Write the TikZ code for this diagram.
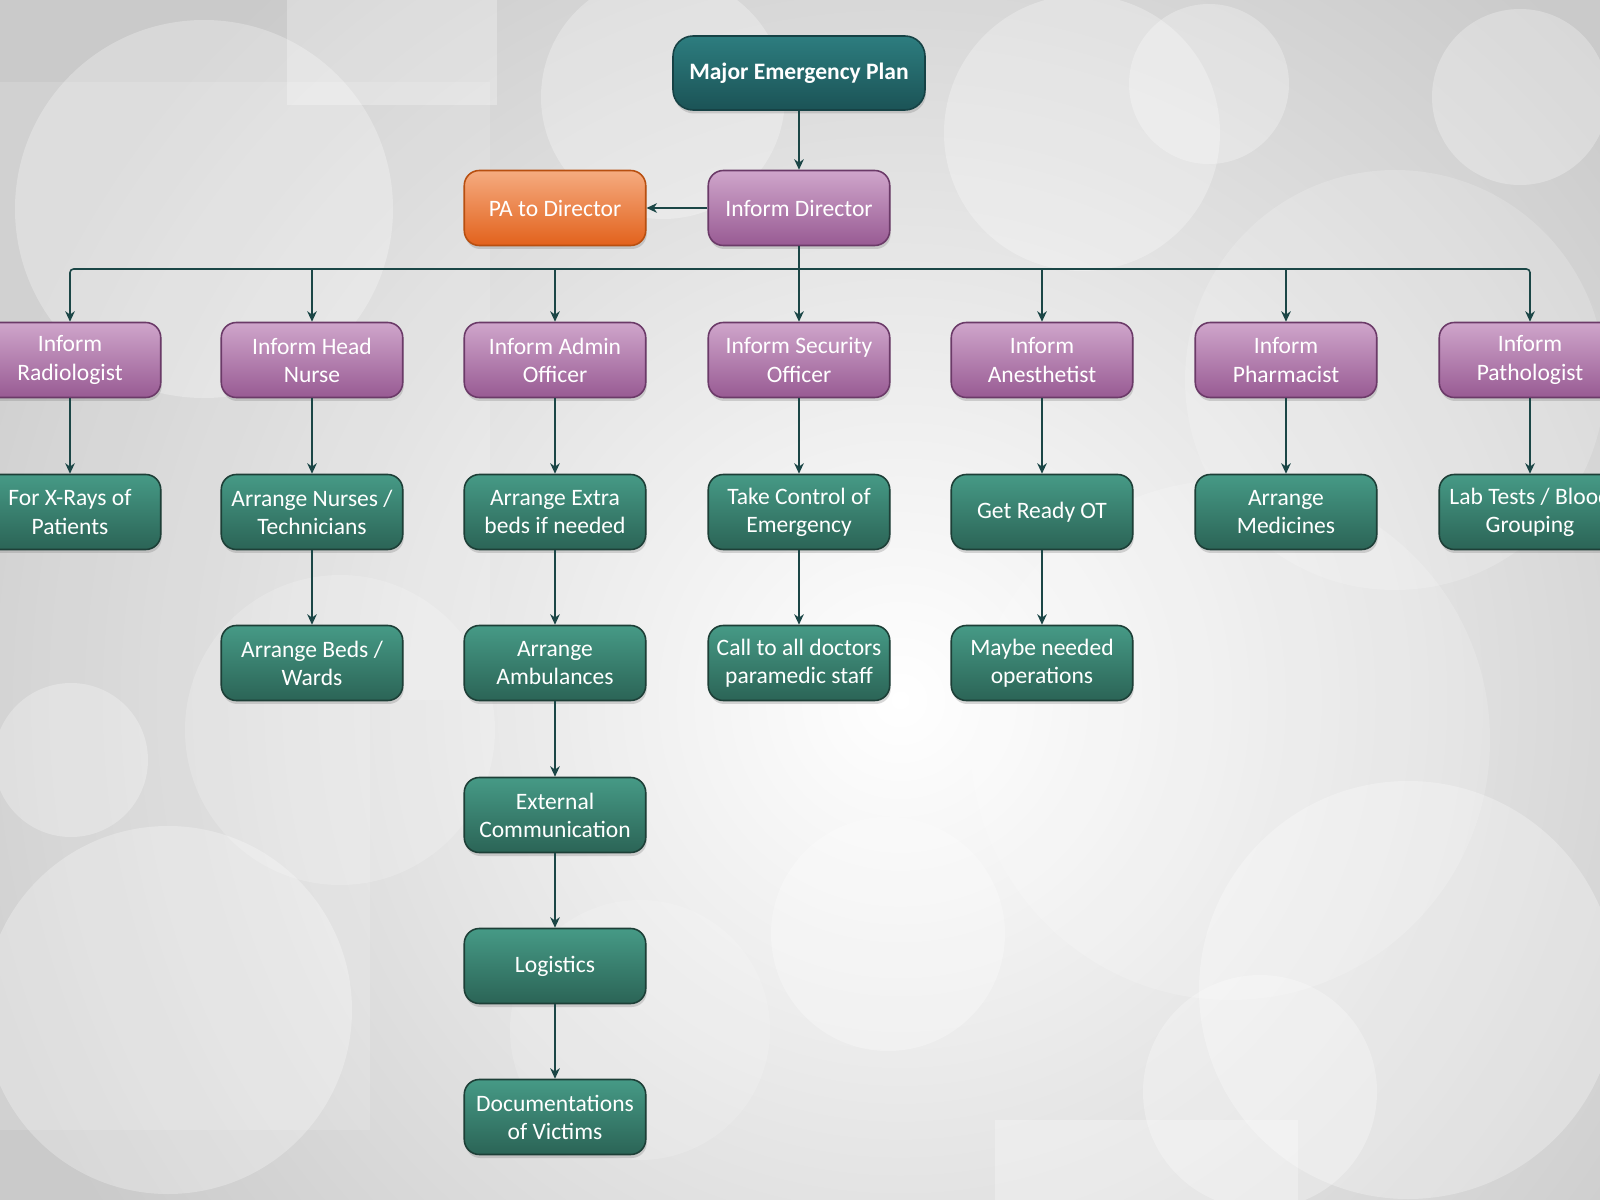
\documentclass[tikz,border=0pt]{standalone}
\usepackage{fontspec}
\setmainfont{Carlito}
\usetikzlibrary{arrows.meta, shadows}

\definecolor{plantop}{HTML}{2D7D7F}
\definecolor{planbot}{HTML}{1B5356}
\definecolor{purptop}{HTML}{CFA6CB}
\definecolor{purpbot}{HTML}{985A93}
\definecolor{purpline}{HTML}{6B3A68}
\definecolor{orantop}{HTML}{F5AB80}
\definecolor{oranbot}{HTML}{E2621C}
\definecolor{oranline}{HTML}{B84F10}
\definecolor{greentop}{HTML}{469A86}
\definecolor{greenbot}{HTML}{2B6456}
\definecolor{greenline}{HTML}{1D3F37}
\definecolor{linkcol}{HTML}{1B4646}
\definecolor{bggrey}{HTML}{CACACA}

\begin{document}
\begin{tikzpicture}[
        x=0.02cm, y=-0.02cm,
        box/.style={rectangle, rounded corners=0.3cm, line width=0.9pt, minimum width=3.63cm, minimum height=1.5cm, align=center, text=white, font=\fontsize{13.4}{16}\selectfont, drop shadow={shadow xshift=0.02cm, shadow yshift=-0.07cm, opacity=0.3}},
        plan/.style={box, rounded corners=0.4cm, draw=planbot!80!black, top color=plantop, bottom color=planbot, minimum width=5.04cm, minimum height=1.48cm, font=\fontsize{13.4}{16}\selectfont\bfseries},
        inform/.style={box, draw=purpline, top color=purptop, bottom color=purpbot},
        pa/.style={box, draw=oranline, top color=orantop, bottom color=oranbot},
        task/.style={box, draw=greenline, top color=greentop, bottom color=greenbot},
        link/.style={draw=linkcol, line width=0.9pt, -{Stealth[length=6pt, width=5.5pt]}},
        bubble/.style={fill=white, opacity=0.28}
    ]
        % Background
        \useasboundingbox (0,0) rectangle (1600,1200);
        \begin{scope}
        \clip (0,0) rectangle (1600,1200);
        \fill[bggrey] (0,0) rectangle (1600,1200);
        \shade[inner color=white, outer color=bggrey] (900,700) circle (950);
        \fill[bubble] (287,0) rectangle (497,105);
        \fill[bubble, opacity=0.15] (0,82) rectangle (490,700);
        \fill[bubble, opacity=0.15] (0,700) rectangle (370,1130);
        \fill[bubble] (995,1120) rectangle (1298,1200);
        \fill[bubble] (204,209) circle (189);
        \fill[bubble] (663,97) circle (122);
        \fill[bubble] (1082,133) circle (138);
        \fill[bubble] (1209,84) circle (80);
        \fill[bubble] (1520,97) circle (88);
        \fill[bubble, opacity=0.18] (1395,380) circle (210);
        \fill[bubble] (71,760) circle (77);
        \fill[bubble] (168,1010) circle (184);
        \fill[bubble, opacity=0.18] (340,730) circle (155);
        \fill[bubble, opacity=0.18] (1230,740) circle (260);
        \fill[bubble] (888,934) circle (117);
        \fill[bubble] (1408,990) circle (209);
        \fill[bubble] (1260,1092) circle (117);
        \fill[bubble, opacity=0.15] (640,1030) circle (130);
        \end{scope}

        % Nodes
        \node (plan) at (799,73) [plan] {Major Emergency Plan};
        \node (director) at (799,208) [inform] {Inform Director};
        \node (pa) at (555,208) [pa] {PA to Director};

        \node (radio) at (70,360) [inform] {Inform\\Radiologist};
        \node (headnurse) at (312,360) [inform] {Inform Head\\Nurse};
        \node (admin) at (555,360) [inform] {Inform Admin\\Officer};
        \node (security) at (799,360) [inform] {Inform Security\\Officer};
        \node (anesth) at (1042,360) [inform] {Inform\\Anesthetist};
        \node (pharma) at (1286,360) [inform] {Inform\\Pharmacist};
        \node (patho) at (1530,360) [inform] {Inform\\Pathologist};

        \node (xray) at (70,512) [task] {For X-Rays of\\Patients};
        \node (nurses) at (312,512) [task] {Arrange Nurses /\\Technicians};
        \node (beds) at (555,512) [task] {Arrange Extra\\beds if needed};
        \node (control) at (799,512) [task] {Take Control of\\Emergency};
        \node (readyot) at (1042,512) [task] {Get Ready OT};
        \node (medicine) at (1286,512) [task] {Arrange\\Medicines};
        \node (labtest) at (1530,512) [task] {Lab Tests / Blood\\Grouping};

        \node (wards) at (312,663) [task] {Arrange Beds /\\Wards};
        \node (ambulance) at (555,663) [task] {Arrange\\Ambulances};
        \node (doctors) at (799,663) [task] {Call to all doctors\\paramedic staff};
        \node (operation) at (1042,663) [task] {Maybe needed\\operations};

        \node (extcomm) at (555,815) [task] {External\\Communication};
        \node (logistics) at (555,966) [task] {Logistics};
        \node (victims) at (555,1117) [task] {Documentations\\of Victims};

        % Arrows
        \coordinate (bus) at (799,269);
        \draw[link] (plan) -- (director);
        \draw[link] (director) -- (pa);
        \draw[draw=linkcol, line width=0.9pt] (director) -- (bus);
        \draw[link, rounded corners=2pt] (bus) -| (radio);
        \draw[link] (bus) -| (headnurse);
        \draw[link] (bus) -| (admin);
        \draw[link] (bus) -- (security);
        \draw[link] (bus) -| (anesth);
        \draw[link] (bus) -| (pharma);
        \draw[link, rounded corners=2pt] (bus) -| (patho);

        \draw[link] (radio) -- (xray);
        \draw[link] (headnurse) -- (nurses);
        \draw[link] (admin) -- (beds);
        \draw[link] (security) -- (control);
        \draw[link] (anesth) -- (readyot);
        \draw[link] (pharma) -- (medicine);
        \draw[link] (patho) -- (labtest);

        \draw[link] (nurses) -- (wards);
        \draw[link] (beds) -- (ambulance);
        \draw[link] (control) -- (doctors);
        \draw[link] (readyot) -- (operation);
        \draw[link] (ambulance) -- (extcomm);
        \draw[link] (extcomm) -- (logistics);
        \draw[link] (logistics) -- (victims);

    \end{tikzpicture}
\end{document}
